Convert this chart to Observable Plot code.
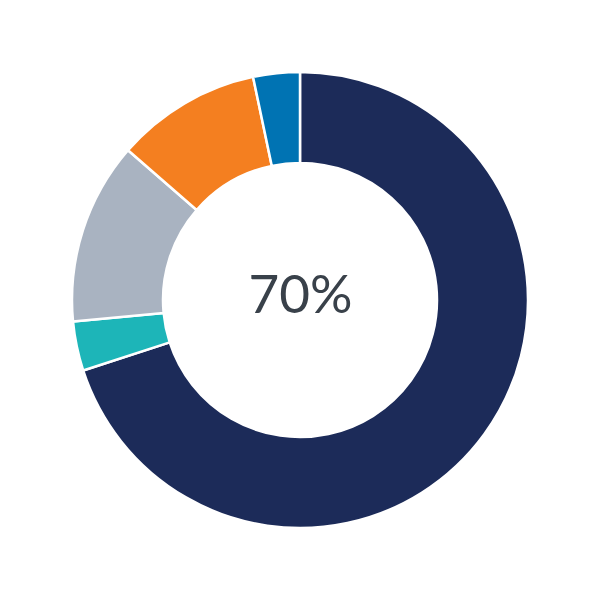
<!DOCTYPE html>
<html>
<head>
<meta charset="utf-8">
<script src="https://cdn.jsdelivr.net/npm/d3@7"></script>
<script src="https://cdn.jsdelivr.net/npm/@observablehq/plot@0.6"></script>
<style>
  html, body { margin: 0; padding: 0; background: #fff; }
  #chart { width: 600px; height: 600px; }
</style>
</head>
<body>
<div id="chart"></div>
<script>
const categories = ["A", "B", "C", "D", "E"];
const values = [70, 3.5, 12.9, 10.3, 3.3];
const colors = ["#1c2b59", "#1db5b8", "#a9b3c1", "#f47f20", "#0073b3"];
const centerLabel = ["70%"];

const data = categories.map((name, i) => ({name, value: values[i]}));

const donut = Plot.dot(data, {
  fill: "name",
  r: 3,
  frameAnchor: "middle",
  render: (index, scales, channels, dims) => {
    const cx = dims.marginLeft + (dims.width - dims.marginLeft - dims.marginRight) / 2;
    const cy = dims.marginTop + (dims.height - dims.marginTop - dims.marginBottom) / 2;
    const pie = d3.pie().value(d => d.value).sort(null);
    const arc = d3.arc().innerRadius(137).outerRadius(228);
    const g = d3.create("svg:g").attr("transform", `translate(${cx},${cy})`);
    g.selectAll("path")
      .data(pie(Array.from(index, i => data[i])))
      .join("path")
      .attr("d", arc)
      .attr("fill", d => scales.color(d.data.name))
      .attr("stroke", "#fff")
      .attr("stroke-width", 2.5)
      .attr("stroke-linejoin", "round");
    return g.node();
  }
});

const chart = Plot.plot({
  width: 600,
  height: 600,
  margin: 0,
  style: {fontFamily: "Lato, sans-serif", background: "#fff"},
  color: {domain: categories, range: colors},
  marks: [
    donut,
    Plot.text(centerLabel, {
      text: d => d,
      frameAnchor: "middle",
      dy: -4,
      fontSize: 53,
      fill: "#39414a",
      fontWeight: 400
    })
  ]
});
document.getElementById("chart").append(chart);
</script>
</body>
</html>
